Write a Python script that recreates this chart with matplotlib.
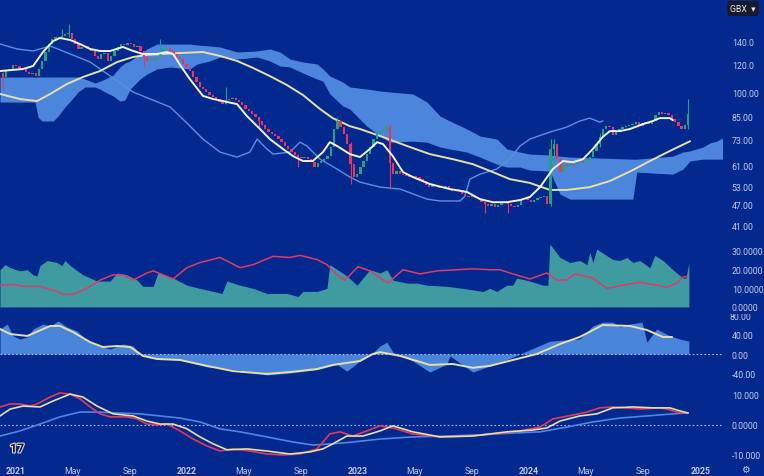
import numpy as np
import matplotlib
matplotlib.use("Agg")
import matplotlib.pyplot as plt
import matplotlib.patheffects as pe
from matplotlib.patches import Rectangle
import datetime as dt

plt.rcParams["font.family"] = ["Roboto", "DejaVu Sans"]

# ---------------- DATA (x = weeks since 2021-01-01) ----------------
first_week = -4
first_open = 114.0
closes = [110.7, 115.2, 116.8, 120.0, 119.2, 116.8, 116.8, 114.5, 112.9, 113.7,
          111.4, 116.8, 123.3, 130.9, 138.1, 142.8, 144.7, 144.0, 145.7, 147.7,
          148.5, 142.8, 138.1, 133.6, 135.4, 136.3, 133.6, 131.8, 127.5, 124.9,
          129.2, 130.0, 123.3, 127.5, 131.8, 135.4, 138.1, 137.5, 139.0, 138.1,
          135.4, 136.3, 131.8, 126.6, 123.3, 124.9, 124.1, 126.6, 130.9, 133.6,
          134.2, 131.8, 129.2, 126.6, 124.9, 120.8, 118.4, 115.2, 110.7, 107.0,
          103.5, 102.1, 100.1, 98.1, 96.8, 95.5, 93.6, 92.3, 94.9, 95.5,
          96.0, 94.9, 93.6, 91.7, 89.3, 88.1, 86.3, 84.6, 82.4, 80.2,
          78.1, 76.5, 75.5, 74.5, 73.0, 71.5, 69.7, 68.3, 66.9, 65.6,
          64.7, 64.2, 64.7, 63.8, 62.5, 60.5, 62.1, 63.0, 63.8, 65.1,
          69.2, 78.1, 82.4, 79.1, 75.5, 70.6, 61.7, 56.6, 57.7, 60.5,
          63.0, 66.0, 69.2, 73.0, 75.5, 77.0, 78.1, 79.1, 62.0, 57.7,
          58.9, 57.7, 57.3, 57.0, 56.6, 57.0, 56.6, 55.8, 55.1, 53.6,
          52.9, 53.6, 53.3, 52.6, 52.9, 53.3, 52.2, 51.5, 52.2, 51.5,
          50.5, 49.8, 49.5, 49.8, 49.2, 48.8, 47.8, 47.2, 46.5, 47.2,
          46.2, 46.8, 47.5, 47.8, 47.2, 46.5, 46.2, 46.8, 48.8, 49.2,
          48.5, 47.8, 48.5, 49.2, 49.5, 49.8, 47.2, 68.3, 70.6, 63.8,
          58.5, 61.7, 60.9, 61.7, 61.4, 62.5, 63.0, 62.1, 63.0, 64.7,
          67.4, 70.6, 74.0, 78.1, 79.6, 79.1, 75.0, 76.5, 78.1, 79.1,
          79.6, 80.2, 80.7, 81.8, 79.6, 81.3, 81.8, 80.7, 82.4, 85.7,
          87.5, 86.3, 86.9, 85.7, 83.5, 81.8, 79.6, 78.1, 80.2, 86.3]

wick_weeks = [-4, 14, 16, 39, 44, 64, 74, 86, 98, 102, 113, 114, 143, 150, 163, 164, 178, 205]
wick_highs = [114.5, 152.8, 158.0, 128.0, 142.8, 103.5, 84.0, 66.0, 84.6, 71.5, 80.7, 80.7,
              47.8, 48.2, 73.0, 73.0, 76.0, 95.5]
wick_lows = [102.1, 144.0, 145.0, 119.2, 130.0, 92.3, 79.0, 60.5, 78.0, 54.0, 77.0, 52.2,
             44.4, 44.4, 46.5, 63.0, 69.0, 78.1]

fast_ma_w = [-4.9, 2.1, 5.2, 8.2, 11.3, 13.4, 16.5, 19.5, 22.6, 25.6, 28.7, 32.6, 35.7, 38.7, 43.0,
             46.0, 47.9, 50.0, 53.0, 57.0, 60.1, 67.4, 70.4, 74.4, 77.4, 81.4, 84.5, 87.5, 90.5,
             93.6, 95.7, 97.9, 101.8, 104.9, 107.9, 110.1, 111.9, 114.9, 118.0, 121.0, 126.2,
             132.3, 137.5, 141.5, 145.4, 149.7, 153.7, 156.7, 159.8, 163.7, 166.8, 169.8, 172.9,
             175.9, 178.9, 181.1, 184.1, 187.2, 191.2, 194.2, 196.3, 199.4, 200.3]
fast_ma_v = [115.2, 116.8, 119.2, 130.9, 140.9, 143.8, 141.9, 138.1, 133.6, 131.8, 131.8, 135.4,
             131.8, 129.2, 129.2, 130.9, 129.2, 120.0, 109.2, 97.5, 95.5, 92.3, 85.2, 78.1, 73.0,
             68.3, 65.1, 63.0, 63.0, 66.9, 71.5, 69.7, 66.0, 64.7, 68.3, 71.5, 70.6, 65.1, 58.5,
             56.6, 54.0, 52.2, 51.2, 48.8, 47.8, 47.8, 48.5, 49.5, 52.9, 59.7, 63.0, 62.5, 63.8,
             68.3, 74.0, 77.0, 77.0, 78.1, 80.7, 82.4, 84.0, 84.0, 82.9]

slow_ma_w = [-4.9, 1.2, 6.4, 10.4, 15.5, 20.4, 25.6, 30.8, 35.7, 39.9, 44.8, 50.0, 57.0, 62.2,
             67.4, 72.3, 77.4, 82.6, 87.5, 92.7, 96.6, 101.8, 104.9, 111.9, 119.2, 126.2, 133.2,
             139.3, 145.4, 150.6, 156.7, 162.8, 168.0, 175.0, 181.1, 188.1, 193.3, 199.4, 205.5]
slow_ma_v = [98.8, 95.5, 94.2, 98.8, 105.6, 110.7, 115.2, 122.4, 126.6, 128.4, 129.2, 130.0,
             130.9, 127.5, 123.3, 117.6, 111.4, 104.9, 98.1, 89.3, 84.0, 79.6, 78.1, 74.0, 69.7,
             66.0, 63.8, 61.7, 58.5, 55.8, 54.4, 51.9, 51.9, 52.9, 55.1, 59.3, 63.0, 67.4, 71.9]

lag_w = [-4.9, 0.3, 5.2, 10.4, 16.5, 22.6, 28.7, 35.7, 40.9, 47.0, 52.1, 57.0, 62.2, 67.4, 71.3,
         73.5, 76.5, 78.4, 83.5, 86.6, 88.7, 92.7, 97.9, 101.8, 104.9, 111.0, 117.1, 125.3, 129.3,
         135.4, 136.9, 138.4, 141.5, 146.6, 150.6, 153.7, 156.7, 162.8, 168.0, 171.9, 175.0,
         178.0, 178.9]
lag_v = [138.1, 133.6, 131.8, 136.3, 129.2, 122.4, 111.4, 100.1, 95.5, 90.5, 81.3, 73.0, 66.9,
         64.7, 66.9, 73.0, 68.3, 66.0, 66.9, 71.5, 69.7, 63.8, 59.7, 56.6, 54.7, 52.9, 52.2, 48.8,
         48.2, 48.2, 49.8, 55.8, 57.7, 59.7, 63.8, 69.7, 73.0, 76.5, 79.1, 82.4, 84.0, 81.8, 82.4]

cloud_w = [-4.9, 5.8, 6.7, 7.9, 11.3, 12.8, 14.9, 17.1, 18.9, 21.0, 24.1, 25.6, 27.1, 29.6, 31.7,
           33.2, 34.8, 37.8, 39.9, 43.0, 47.0, 53.0, 55.2, 59.1, 62.2, 67.4, 73.5, 77.4, 80.5,
           83.5, 87.5, 91.8, 93.6, 95.7, 99.7, 101.8, 107.0, 111.0, 114.0, 121.0, 125.3, 129.3,
           132.3, 137.5, 141.5, 146.6, 149.7, 153.7, 156.7, 162.8, 165.9, 168.9, 188.1, 189.3,
           200.3, 203.4, 205.5, 209.5, 211.6, 213.7, 215.5]
cloud_top = [110.7, 110.7, 110.7, 110.7, 110.7, 110.7, 110.7, 110.7, 110.7, 109.2, 106.3, 107.7,
             109.2, 112.1, 118.4, 121.6, 123.3, 129.2, 133.6, 138.1, 138.1, 138.1, 137.2, 136.3,
             135.4, 130.9, 131.8, 133.6, 130.9, 124.9, 122.4, 120.8, 116.8, 111.4, 107.0, 103.5,
             102.1, 100.8, 100.1, 98.8, 93.6, 85.2, 82.4, 78.1, 74.5, 73.0, 68.3, 66.9, 66.0,
             65.6, 65.1, 64.7, 63.8, 63.8, 65.1, 66.9, 67.4, 69.2, 71.1, 72.0, 73.5]
cloud_bot = [93.6, 93.6, 84.6, 82.4, 82.4, 85.2, 90.5, 95.5, 100.1, 103.5, 103.5, 102.1, 100.1,
             97.5, 94.2, 94.9, 102.1, 109.2, 112.9, 116.8, 118.4, 116.8, 120.8, 123.3, 126.6,
             124.9, 126.6, 123.3, 119.2, 118.4, 113.7, 109.2, 107.7, 98.8, 91.1, 89.3, 79.6, 74.5,
             71.5, 72.0, 71.5, 69.2, 68.3, 66.9, 64.7, 61.7, 60.5, 60.5, 59.3, 58.9, 50.5, 48.8,
             48.8, 58.5, 57.7, 59.7, 63.0, 63.8, 63.8, 63.8, 63.8]

# panel 2
vol_w = [-4.9, -3.4, -1.8, 1.2, 3.4, 5.2, 6.4, 7.3, 9.5, 12.5, 14.0, 14.9, 16.5, 20.4, 24.7, 28.7,
         30.8, 33.8, 36.9, 38.7, 41.8, 43.3, 47.9, 52.1, 56.1, 60.1, 62.8, 64.3, 68.3, 72.3, 76.5,
         82.6, 86.0, 87.5, 91.8, 94.8, 95.7, 100.9, 104.0, 105.8, 107.9, 111.0, 113.1, 114.9,
         119.2, 122.3, 125.3, 131.4, 136.3, 142.4, 144.5, 146.6, 149.7, 151.5, 152.7, 156.7,
         160.7, 162.2, 162.8, 165.9, 168.9, 171.9, 174.1, 175.0, 175.9, 177.1, 182.0, 184.1,
         186.3, 188.1, 190.2, 193.3, 194.8, 197.3, 200.3, 203.4, 204.3, 205.2]
vol_v = [19.7, 22.4, 20.8, 19.1, 19.7, 17.0, 16.4, 21.9, 24.6, 23.5, 21.9, 24.6, 21.9, 17.0, 13.7,
         13.7, 18.0, 17.0, 14.2, 10.9, 10.9, 18.0, 15.3, 11.5, 9.8, 8.2, 7.1, 13.7, 11.5, 9.8, 7.1,
         7.1, 5.5, 8.2, 8.2, 9.8, 22.4, 16.4, 11.5, 15.3, 19.7, 18.0, 19.7, 14.2, 12.6, 12.6, 11.5,
         10.9, 9.8, 8.2, 9.8, 8.2, 11.5, 11.5, 15.3, 13.7, 11.5, 11.5, 33.3, 26.2, 23.5, 24.6,
         22.4, 29.0, 23.5, 30.6, 25.1, 24.6, 26.2, 23.5, 24.6, 20.8, 27.3, 24.6, 19.7, 15.3,
         15.3, 23.5]
adx_w = [-4.9, -0.9, 2.1, 7.3, 12.5, 14.3, 17.4, 21.6, 25.6, 29.6, 32.6, 35.7, 39.9, 41.8, 44.8,
         47.9, 52.1, 56.1, 62.2, 68.3, 72.3, 78.4, 83.5, 86.6, 91.8, 94.8, 97.9, 100.3, 104.3,
         107.9, 111.0, 113.4, 118.0, 123.2, 128.4, 134.5, 139.3, 144.5, 147.6, 151.5, 156.7,
         161.9, 164.9, 168.0, 170.4, 175.9, 180.2, 185.1, 190.2, 195.4, 198.5, 201.5, 203.4, 205.2]
adx_v = [11.5, 12.0, 10.9, 10.9, 8.2, 6.6, 6.6, 9.8, 14.2, 17.0, 17.0, 14.2, 18.0, 19.1, 17.0,
         14.8, 20.8, 23.5, 26.2, 20.8, 22.4, 26.8, 26.2, 27.3, 25.1, 22.4, 17.0, 14.2, 21.3, 19.1,
         15.3, 12.6, 19.7, 17.5, 19.1, 19.7, 20.2, 19.7, 19.7, 17.5, 14.8, 18.0, 14.2, 14.2, 17.5,
         15.3, 9.8, 11.5, 13.1, 11.5, 10.4, 12.6, 15.8, 16.4]

# panel 3
osc_w = [-4.9, -2.7, -0.9, 1.2, 3.4, 5.2, 8.2, 10.4, 12.8, 15.5, 18.6, 20.4, 22.6, 25.6, 28.7,
         32.6, 35.7, 37.8, 43.0, 50.0, 58.2, 68.3, 76.5, 83.5, 91.8, 97.9, 100.9, 104.9, 108.8,
         111.0, 113.1, 114.9, 121.0, 126.2, 131.4, 132.3, 139.3, 144.5, 149.7, 153.7, 162.8,
         171.9, 175.9, 178.9, 182.0, 184.1, 187.2, 190.9, 192.4, 195.4, 199.4, 202.4, 205.2]
osc_v = [52.6, 63.0, 38.0, 31.6, 35.8, 52.6, 63.0, 59.0, 69.5, 56.8, 48.4, 35.8, 25.3, 16.8, 10.5,
         21.0, 16.8, 0.0, -10.5, -12.6, -27.0, -34.0, -44.0, -40.0, -33.0, -22.0, -36.0, -14.7,
         2.0, 16.8, 25.0, 4.0, -14.7, -38.0, -21.0, -4.0, -38.0, -25.0, -12.0, 0.0, 27.0, 31.6,
         59.0, 67.0, 67.0, 57.0, 63.0, 67.0, 25.0, 52.6, 38.0, 31.6, 27.0]
osc_sig_w = [-4.9, -1.8, 3.4, 10.4, 13.4, 17.4, 22.6, 26.5, 30.8, 34.8, 38.7, 43.0, 50.0, 58.2,
             66.2, 76.5, 83.5, 91.8, 96.6, 104.9, 108.8, 111.0, 117.1, 126.2, 133.2, 139.3, 144.5,
             151.5, 158.8, 165.9, 171.9, 178.9, 187.2, 192.4, 197.3, 200.0]
osc_sig_v = [52.6, 42.0, 38.0, 59.0, 59.0, 46.0, 25.0, 14.7, 16.8, 14.7, -4.0, -10.5, -12.6, -25.0,
             -36.0, -42.0, -38.0, -31.6, -23.0, -14.7, 0.0, 4.0, -4.0, -23.0, -21.0, -29.0, -25.0,
             -12.6, 0.0, 21.0, 35.8, 61.0, 59.0, 50.5, 35.8, 35.8]

# panel 4
macd_w = [-4.9, -1.8, 1.2, 4.3, 6.4, 10.4, 13.4, 16.5, 19.5, 22.6, 25.6, 28.7, 33.8, 36.9, 39.9,
          43.0, 46.0, 50.0, 54.0, 58.2, 62.2, 66.2, 71.3, 76.5, 81.4, 86.6, 91.8, 95.7, 98.8,
          102.7, 107.0, 111.0, 114.9, 121.0, 129.3, 137.5, 145.4, 153.7, 159.8, 163.7, 169.8,
          174.1, 178.0, 182.0, 190.2, 196.3, 198.5, 201.5, 203.4]
macd_v = [6.0, 7.0, 7.0, 6.3, 7.0, 9.3, 10.7, 10.3, 8.7, 6.0, 3.7, 2.7, 2.7, 2.0, 0.3, 0.0, 0.3,
          -2.0, -4.7, -7.0, -8.7, -8.0, -8.7, -9.7, -10.0, -9.7, -8.0, -3.0, -2.3, -3.7, -2.0,
          -0.3, -1.0, -3.0, -4.0, -3.7, -3.0, -2.0, -0.7, 2.0, 3.3, 4.3, 5.7, 6.0, 5.3, 5.7, 5.3,
          4.3, 4.0]
sig_w = [-4.9, -1.8, 2.1, 7.3, 11.3, 16.5, 20.4, 24.7, 29.6, 35.7, 39.9, 43.9, 47.9, 52.1, 56.1,
         60.1, 64.3, 70.4, 76.5, 83.5, 89.6, 93.6, 96.6, 100.9, 105.8, 111.0, 114.9, 121.0, 129.3,
         139.3, 149.7, 157.6, 161.9, 165.9, 171.9, 177.1, 182.0, 188.1, 194.2, 199.4, 202.4, 204.9]
sig_v = [3.0, 5.3, 6.3, 6.0, 8.0, 10.3, 9.3, 6.3, 3.7, 3.0, 1.3, 0.3, 0.3, -1.3, -4.0, -6.3, -8.3,
         -8.0, -8.7, -9.7, -9.0, -8.0, -6.3, -3.7, -3.7, -2.0, -0.3, -2.3, -4.0, -3.7, -2.3, -1.7,
         -1.0, 1.3, 3.0, 3.7, 5.7, 6.0, 5.7, 5.7, 4.7, 4.0]
slow_w = [-4.9, 1.2, 7.3, 13.4, 19.5, 24.7, 30.8, 37.8, 43.9, 50.0, 56.1, 62.2, 68.3, 76.5, 84.5,
          90.5, 96.6, 102.7, 111.0, 121.0, 131.4, 141.5, 151.5, 159.8, 168.0, 175.9, 184.1, 192.4,
          200.3, 204.9]
slow_v = [-3.7, -2.0, 0.3, 2.7, 4.3, 4.3, 4.0, 3.7, 3.0, 2.3, 1.0, -1.3, -2.3, -4.0, -5.7, -6.7,
          -6.3, -5.7, -4.7, -4.0, -3.7, -3.3, -2.7, -2.3, -0.7, 1.0, 2.3, 3.0, 3.7, 4.0]

price_ticks = [41, 47, 53, 61, 73, 85, 100, 120, 140]
price_labels = ["41.00", "47.00", "53.00", "61.00", "73.00", "85.00", "100.00", "120.0", "140.0"]
p2_ticks = [0, 10, 20, 30]
p2_labels = ["0.0000", "10.0000", "20.0000", "30.0000"]
p3_ticks = [-40, 0, 40]
p3_labels = ["-40.00", "0.00", "40.00"]
p4_ticks = [-10, 0, 10]
p4_labels = ["-10.000", "0.0000", "10.000"]
month_ticks = [(2021, 1, "2021"), (2021, 5, "May"), (2021, 9, "Sep"), (2022, 1, "2022"),
               (2022, 5, "May"), (2022, 9, "Sep"), (2023, 1, "2023"), (2023, 5, "May"),
               (2023, 9, "Sep"), (2024, 1, "2024"), (2024, 5, "May"), (2024, 9, "Sep"),
               (2025, 1, "2025")]

# ---------------- STYLE ----------------
BG = "#03298f"
TXT = "#c3cbe3"
UP = "#22a37a"
DOWN = "#f0325f"
W, H = 764, 477
XL = (-4.9, 215.3)
FS = 6.3

fig = plt.figure(figsize=(W / 100, H / 100), dpi=100, facecolor=BG)


def rect(top, bottom, left=0, right=722):
    return [left / W, 1 - bottom / H, (right - left) / W, (bottom - top) / H]


def style(ax):
    ax.set_facecolor(BG)
    for s in ax.spines.values():
        s.set_visible(False)
    ax.set_xlim(*XL)
    ax.yaxis.tick_right()
    ax.tick_params(axis="y", length=0, pad=7, labelsize=FS, labelcolor=TXT)
    ax.tick_params(axis="x", length=0, labelbottom=False)
    ax.minorticks_off()


# ---- main price panel ----
ax = fig.add_axes(rect(0, 243))
style(ax)
ax.set_yscale("log")
ax.set_ylim(36.6, 186.8)
ax.minorticks_off()
ax.set_yticks(price_ticks)
ax.set_yticklabels(price_labels)
ax.tick_params(axis="y", which="minor", length=0, labelright=False, labelleft=False)

ax.fill_between(cloud_w, cloud_bot, cloud_top, color="#4b86dc", lw=0, zorder=1)
ax.plot(lag_w, lag_v, color="#5b8fe3", lw=1.0, zorder=2)
ax.plot(slow_ma_w, slow_ma_v, color="#e6e0a3", lw=1.4, zorder=3)

weeks = np.arange(first_week, first_week + len(closes))
cl = np.array(closes)
op = np.concatenate([[first_open], cl[:-1]])
cols = np.where(cl >= op, UP, DOWN)
wick_cols = [UP if cl[w - first_week] >= op[w - first_week] else DOWN for w in wick_weeks]
ax.vlines(wick_weeks, wick_lows, wick_highs, colors=wick_cols, lw=0.8, zorder=4)
ax.bar(weeks, cl - op, bottom=op, width=0.72, color=cols, lw=0, zorder=4)
ax.plot(fast_ma_w, fast_ma_v, color="#f2f2f2", lw=1.4, zorder=5)

# ---- panel 2 ----
ax2 = fig.add_axes(rect(243, 313))
style(ax2)
ax2.set_ylim(-2.7, 34.4)
ax2.fill_between(vol_w, 0, vol_v, color="#3f9b9f", lw=0)
ax2.plot(adx_w, adx_v, color="#e03a6a", lw=1.1)
ax2.set_yticks(p2_ticks)
ax2.set_yticklabels(p2_labels)

# ---- panel 3 ----
ax3 = fig.add_axes(rect(313, 378))
style(ax3)
ax3.set_ylim(-48.4, 88.4)
ax3.fill_between(osc_w, 0, osc_v, color="#4a85dc", lw=0)
ax3.axhline(0, color="#a9b9e6", lw=0.8, ls=(0, (1.5, 2)))
ax3.plot(osc_sig_w, osc_sig_v, color="#e6e0a3", lw=1.4)
ax3.set_yticks(p3_ticks)
ax3.set_yticklabels(p3_labels)
t80 = fig.text(729.5 / W, 1 - 317.5 / H, "80.00", color=TXT, fontsize=FS, va="center", ha="left")
clip = Rectangle((0, 0), 1, 1 - 314.5 / H, transform=fig.transFigure)
t80.set_clip_path(clip)

# ---- panel 4 ----
ax4 = fig.add_axes(rect(378, 461))
style(ax4)
ax4.set_ylim(-11.7, 16.0)
ax4.axhline(0, color="#a9b9e6", lw=0.8, ls=(0, (1.5, 2)))
ax4.plot(slow_w, slow_v, color="#4f86e2", lw=1.2)
ax4.plot(macd_w, macd_v, color="#e8365f", lw=1.2)
ax4.plot(sig_w, sig_v, color="#e6e0a3", lw=1.2)
ax4.set_yticks(p4_ticks)
ax4.set_yticklabels(p4_labels)

base = dt.date(2021, 1, 1)
xt = [(dt.date(y, m, 1) - base).days / 7 for y, m, _ in month_ticks]
ax4.set_xticks(xt)
ax4.set_xticklabels([lab for _, _, lab in month_ticks])
ax4.tick_params(axis="x", labelbottom=True, labelsize=FS, labelcolor=TXT, pad=4)
for lbl, (_, m, _) in zip(ax4.get_xticklabels(), month_ticks):
    if m == 1:
        lbl.set_fontweight("bold")

# ---- decorations ----
fig.text(743 / W, 1 - 9.5 / H, "GBX  \u25BE", color="#e8eaf0", fontsize=6.3, ha="center", va="center",
         bbox=dict(boxstyle="round,pad=0.35", fc="#161b2b", ec="none"))
fig.text(17 / W, 1 - 450 / H, "17", color="#111111", fontsize=9, fontweight="bold", ha="center",
         va="center", path_effects=[pe.withStroke(linewidth=1.5, foreground="#e8e8e8")])
fig.text(745 / W, 1 - 470 / H, "\u2699", color="#c3cbe3", fontsize=7, ha="center", va="center",
         family="DejaVu Sans")

fig.savefig("out.png", dpi=100, facecolor=BG)
